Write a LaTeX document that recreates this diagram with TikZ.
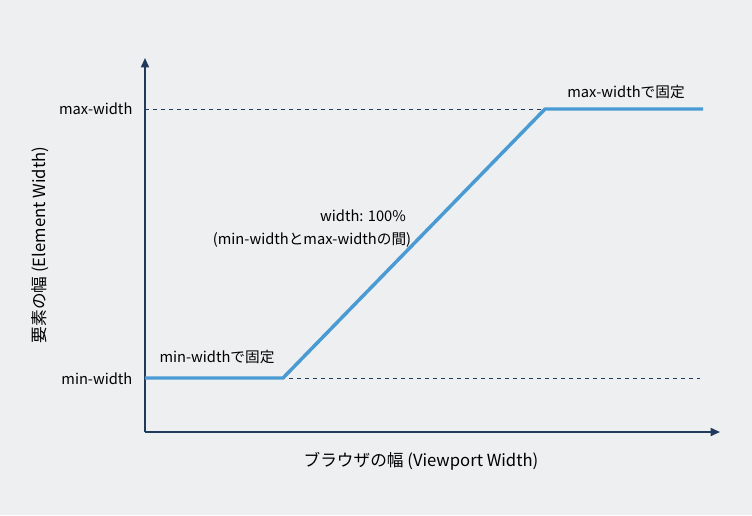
\documentclass[tikz,border=0pt]{standalone}
\usepackage{fontspec}
\setmainfont{Noto Sans CJK JP}
\usetikzlibrary{arrows.meta}
\definecolor{bg}{HTML}{EDEFF1}
\definecolor{ln}{HTML}{4A9AD4}
\definecolor{ax}{HTML}{1F3A5A}
\begin{document}
\begin{tikzpicture}[x=0.75pt,y=-0.75pt,
  lbl/.style={font=\fontsize{11}{13}\selectfont,text=black,inner sep=1pt},
  axlbl/.style={font=\fontsize{12.5}{14}\selectfont,text=black,inner sep=1pt},
  axisline/.style={draw=ax,line width=1.2pt,-{Triangle[length=7pt,width=6pt]}},
  guide/.style={draw=ax,dashed,line width=0.6pt}]
\fill[bg] (0,0) rectangle (752,515);
\useasboundingbox (0,0) rectangle (752,515);
\coordinate (o) at (145,432);
\coordinate (ytop) at (145,58);
\coordinate (xend) at (720,432);
\coordinate (maxs) at (145,109);
\coordinate (maxe) at (545,109);
\coordinate (mins) at (145,378);
\coordinate (mine) at (700,378);
\coordinate (k1) at (283,378);
\coordinate (k2) at (545,109);
\coordinate (lend) at (703,109);
\draw[guide] (maxs) -- (maxe);
\draw[guide] (mins) -- (mine);
\draw[axisline] (o) -- (ytop);
\draw[axisline] (o) -- (xend);
\draw[ln,line width=2.6pt,line join=round] (mins) -- (k1) -- (k2) -- (lend);
\node[lbl,anchor=east] (lmax) at (134,109) {max-width};
\node[lbl,anchor=east] (lmin) at (134,379) {min-width};
\node[axlbl,rotate=90] (ylab) at (40,245) {要素の幅 (Element Width)};
\node[axlbl] (xlab) at (421,461) {ブラウザの幅 (Viewport Width)};
\node[lbl] (tmax) at (626,92) {max-widthで固定};
\node[lbl] (tmin) at (217,357) {min-widthで固定};
\node[lbl] (tmid1) at (363,216) {width: 100\%};
\node[lbl] (tmid2) at (312,240) {(min-widthとmax-widthの間)};
\end{tikzpicture}
\end{document}
